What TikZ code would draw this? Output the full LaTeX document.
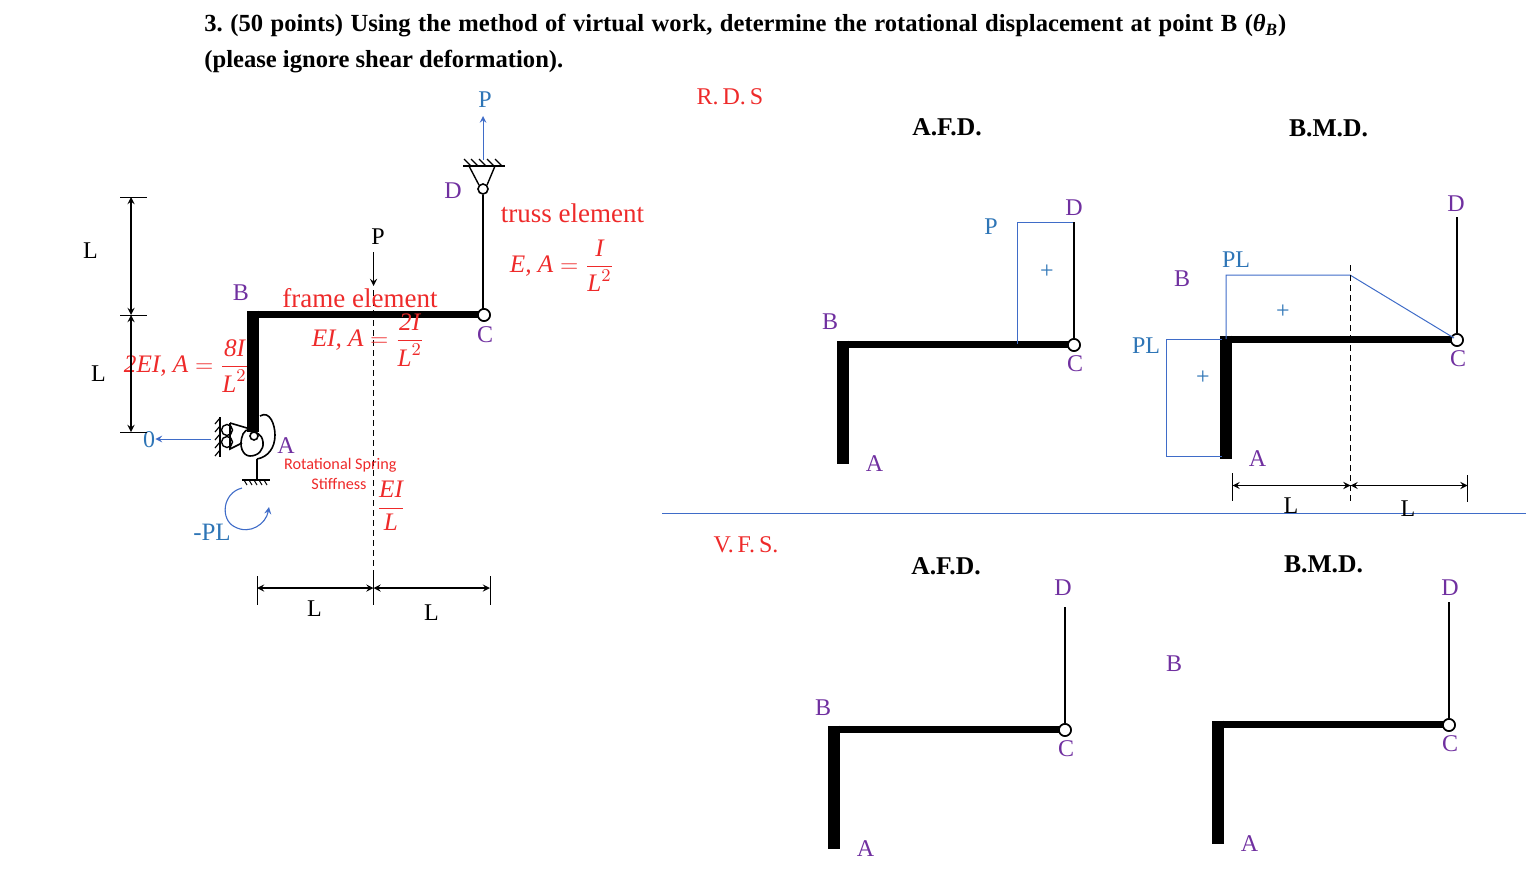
\documentclass[tikz,border=0pt]{standalone}
\usepackage{amsmath, fontspec}
\setmainfont{Liberation Serif}
\setsansfont{Carlito}
\definecolor{lab}{HTML}{7030A0}
\definecolor{load}{HTML}{2E75B6}
\definecolor{diag}{HTML}{3F6CC8}
\definecolor{note}{HTML}{EE2A2A}
\tikzset{>=stealth}
\tikzset{
  pt/.style={inner sep=0pt, yshift=-0.5pt, font=\fontsize{12}{14}\selectfont, lab},
  txt/.style={inner sep=0pt, yshift=-0.5pt, font=\fontsize{12}{14}\selectfont},
  val/.style={inner sep=0pt, yshift=-0.5pt, font=\fontsize{12}{14}\selectfont, load},
  hd/.style={inner sep=0pt, yshift=-0.5pt, font=\fontsize{12.8}{15}\selectfont\bfseries},
  rednote/.style={inner sep=0pt, font=\fontsize{13.5}{16}\selectfont, note},
  eqn/.style={inner sep=0pt, font=\fontsize{12.6}{16}\selectfont, note},
  hinge/.style={circle, draw, fill=white, line width=0.8pt, inner sep=0pt, minimum size=6pt},
  dim/.style={<->, line width=0.6pt},
  tick/.style={line width=0.5pt},
  bmd/.style={diag, line width=0.5pt},
  spr/.style={line width=0.8pt}
}
\newcommand{\vit}[1]{\textit{#1}}
\begin{document}
\begin{tikzpicture}[x=0.5pt, y=-0.5pt]
    \useasboundingbox (0,0) rectangle (1526,888);
    % problem statement
    \node[inner sep=0pt, anchor=north west, text width=541pt, align=justify,
      font=\frenchspacing\fontsize{12.3}{18}\selectfont\bfseries] (title) at (204,14)
      {3. (50 points) Using the method of virtual work, determine the rotational displacement at point B (\textit{θ}$_{\textbf{\textit{B}}}$)\linebreak (please ignore shear deformation).};
    % main frame
    \coordinate (Bm) at (249.5,314);
    \coordinate (Am) at (253,432);
    \node[hinge] (Cm) at (484,315) {};
    \node[hinge, minimum size=5pt] (Dm) at (483,189) {};
    \draw[line width=6pt] (253,310.5) -- (Am);
    \draw[line width=3.5pt] (Bm) -- (Bm -| Cm);
    \draw[line width=0.8pt] (Dm) -- (Dm |- Cm);
    \node[hinge] at (484,315) {};
    % support at D
    \coordinate (Dl) at (469,166);
    \coordinate (Dr) at (495,166);
    \draw[line width=0.7pt] (Dl) -- (Dm.north west) (Dr) -- (Dm.north east);
    \draw[line width=0.7pt] (463,166) -- (505,166);
    \foreach \x in {464,471,479,487,495} \draw[line width=0.6pt] (\x,159) -- (\x+7,166);
    \coordinate (Pt) at (483,116);
    \coordinate (Pb) at (483,160);
    \draw[->, diag, line width=0.5pt] (Pb) -- (Pt);
    \node[val] (Ptop) at (485,99) {P};
    \node[pt] (Dlab) at (453,190) {D};
    % support at A
    \draw[line width=0.8pt] (220,417) -- (220,457);
    \foreach \y in {423,431,439,447,455} \draw[line width=0.6pt] (215,\y+1) -- (220,\y-5);
    \draw[line width=0.7pt] (227,430) circle (5.5) (227,442) circle (5.5);
    \draw[line width=0.8pt] (230,423) -- (247,428) (230,423) -- (230,449) -- (242,443);
    \draw[spr] (258,434) .. controls (252,428) and (246,428) .. (243,434)
      .. controls (238,446) and (243,456) .. (250,456)
      .. controls (258,456) and (264,450) .. (263,442) .. controls (262,434) and (256,431) .. (250,434);
    \draw[spr] (260,416) .. controls (270,410) and (275,425) .. (275,435)
      .. controls (275,448) and (268,457) .. (257,459);
    \draw[spr, fill=white] (254,436) circle (4);
    \draw[line width=1.1pt] (257,459) -- (257,480);
    \draw[line width=0.7pt] (242,480) -- (270,480);
    \foreach \x in {244,249,254,259,264} \draw[line width=0.5pt] (\x,480) -- (\x+3,485);
    % reactions
    \node[val] (zero) at (149,439) {0};
    \coordinate (wall) at (211,439);
    \draw[->, diag, line width=0.5pt] (wall) -- (wall -| zero.east);
    \node[val, font=\fontsize{12.5}{14}\selectfont] (mom) at (212,531) {-PL};
    \draw[->, diag, line width=0.55pt] (242,488) .. controls (222,493) and (220,520) .. (235,527)
      .. controls (250,535) and (266,524) .. (269,507);
    % labels of main frame
    \node[pt] (Bl) at (241,292) {B};
    \node[pt] (Cl) at (485,334) {C};
    \node[pt] (Al) at (286,445) {A};
    \node[txt] (Pm) at (378,236) {P};
    \coordinate (Pa) at (373.5,252);
    \coordinate (Pc) at (373.5,286);
    \draw[->, line width=0.6pt] (Pa) -- (Pc);
    \coordinate (cut1) at (373.5,290);
    \coordinate (cut2) at (373.5,605);
    \draw[densely dashed, line width=0.6pt] (cut1) -- (cut2);
    \node[rednote] (fr) at (360,298) {frame element};
    \node[rednote] (tr) at (572.5,213) {truss element};
    \node[eqn] (e1) at (186.5,366) {$\vit{2EI, A}=\dfrac{\vit{8I}}{\vit{L}^2}$};
    \node[eqn] (e2) at (368,340) {$\vit{EI, A}=\dfrac{\vit{2I}}{\vit{L}^2}$};
    \node[eqn] (e3) at (562,266) {$\vit{E, A}=\dfrac{\vit{I}}{\vit{L}^2}$};
    \node[eqn] (e4) at (391,506) {$\dfrac{\vit{EI}}{\vit{L}}$};
    \node[inner sep=0pt, align=right, anchor=north east, note, font=\sffamily\fontsize{8.1}{10}\selectfont] (sp) at (397,458)
      {Rotational Spring\\Stiffness\hspace*{15pt}};
    % dimensions
    \foreach \y [count=\i] in {197,315,432} {
      \coordinate (v\i) at (131,\y);
      \draw[tick] (120,\y) -- (147,\y);
    }
    \draw[dim] (v1) -- (v2);
    \draw[dim] (v2) -- (v3);
    \node[txt] (L1) at (90.5,250) {L};
    \node[txt] (L2) at (98.5,373) {L};
    \foreach \x [count=\i] in {257,373.5,490} {
      \coordinate (h\i) at (\x,588);
      \draw[tick] (\x,576) -- (\x,605);
    }
    \draw[dim] (h1) -- (h2);
    \draw[dim] (h2) -- (h3);
    \node[txt] (L3) at (314.5,608) {L};
    \node[txt] (L4) at (431.5,612) {L};
    % right hand side
    \coordinate (sep1) at (662,513.5);
    \coordinate (sep2) at (1526,513.5);
    \draw[diag, line width=0.65pt] (sep1) -- (sep2);
    \node[inner sep=0pt, font=\fontsize{12}{14}\selectfont, note] (rds) at (730,97) {R.\,D.\,S};
    \node[inner sep=0pt, font=\fontsize{12}{14}\selectfont, note] (vfs) at (746,545) {V.\,F.\,S.};
    \node[hd] (h1t) at (947,126.5) {A.F.D.};
    \node[hd] (h2t) at (1328.5,127.5) {B.M.D.};
    \node[hd] (h3t) at (946,565.5) {A.F.D.};
    \node[hd] (h4t) at (1323.5,563.5) {B.M.D.};
    % the four small frames
    \foreach \n/\x/\y in {a/843/344, b/1226/339, c/834/729, d/1218/724} {
      \begin{scope}[shift={(\x,\y)}]
        \node[hinge, minimum size=6pt] (C\n) at (231,1) {};
        \coordinate (D\n) at (231,-122);
        \coordinate (K\n) at (-3,0);
        \draw[line width=0.8pt] (D\n) -- (C\n);
        \draw[line width=6pt] (0,-3.5) -- (0,120);
        \draw[line width=3.5pt] (K\n) -- (K\n -| C\n);
        \node[hinge, minimum size=6pt] at (231,1) {};
        \node[pt] (lC\n) at (232,19) {C};
        \node[pt] (lA\n) at (31.5,119) {A};
      \end{scope}
    }
    \node[pt] at (1074,207) {D};
    \node[pt] at (1456,203) {D};
    \node[pt] at (1063,587) {D};
    \node[pt] at (1450,587) {D};
    \node[pt] at (830,321) {B};
    \node[pt] at (1182,278) {B};
    \node[pt] at (823,707) {B};
    \node[pt] at (1174,663) {B};
    % axial force diagram
    \draw[bmd] (1017,344) -- (1017,222) -- (1073,222);
    \node[val, font=\fontsize{12}{14}\selectfont] at (1047,271) {+};
    \node[val] at (991,226) {P};
    % bending moment diagram
    \draw[bmd] (1226,339) -- (1226,275) -- (1350,275) -- (1454,338);
    \draw[bmd] (1222,339) -- (1166,339) -- (1166,456) -- (1222,456);
    \node[val] at (1236,259) {PL};
    \node[val] at (1146,345) {PL};
    \node[val, font=\fontsize{12}{14}\selectfont] at (1283,311) {+};
    \node[val, font=\fontsize{12}{14}\selectfont] at (1203,377) {+};
    \coordinate (cut3) at (1350.5,265);
    \coordinate (cut4) at (1350.5,502);
    \draw[densely dashed, line width=0.6pt] (cut3) -- (cut4);
    \coordinate (r1) at (1232.5,485.5);
    \coordinate (r2) at (1350.5,485.5);
    \coordinate (r3) at (1467.5,485.5);
    \draw[tick] (1232.5,473) -- (1232.5,501) (1467.5,475) -- (1467.5,502);
    \draw[dim] (r1) -- (r2);
    \draw[dim] (r2) -- (r3);
    \node[txt] (L5) at (1291,505) {L};
    \node[txt] (L6) at (1408,508) {L};
\end{tikzpicture}
\end{document}
